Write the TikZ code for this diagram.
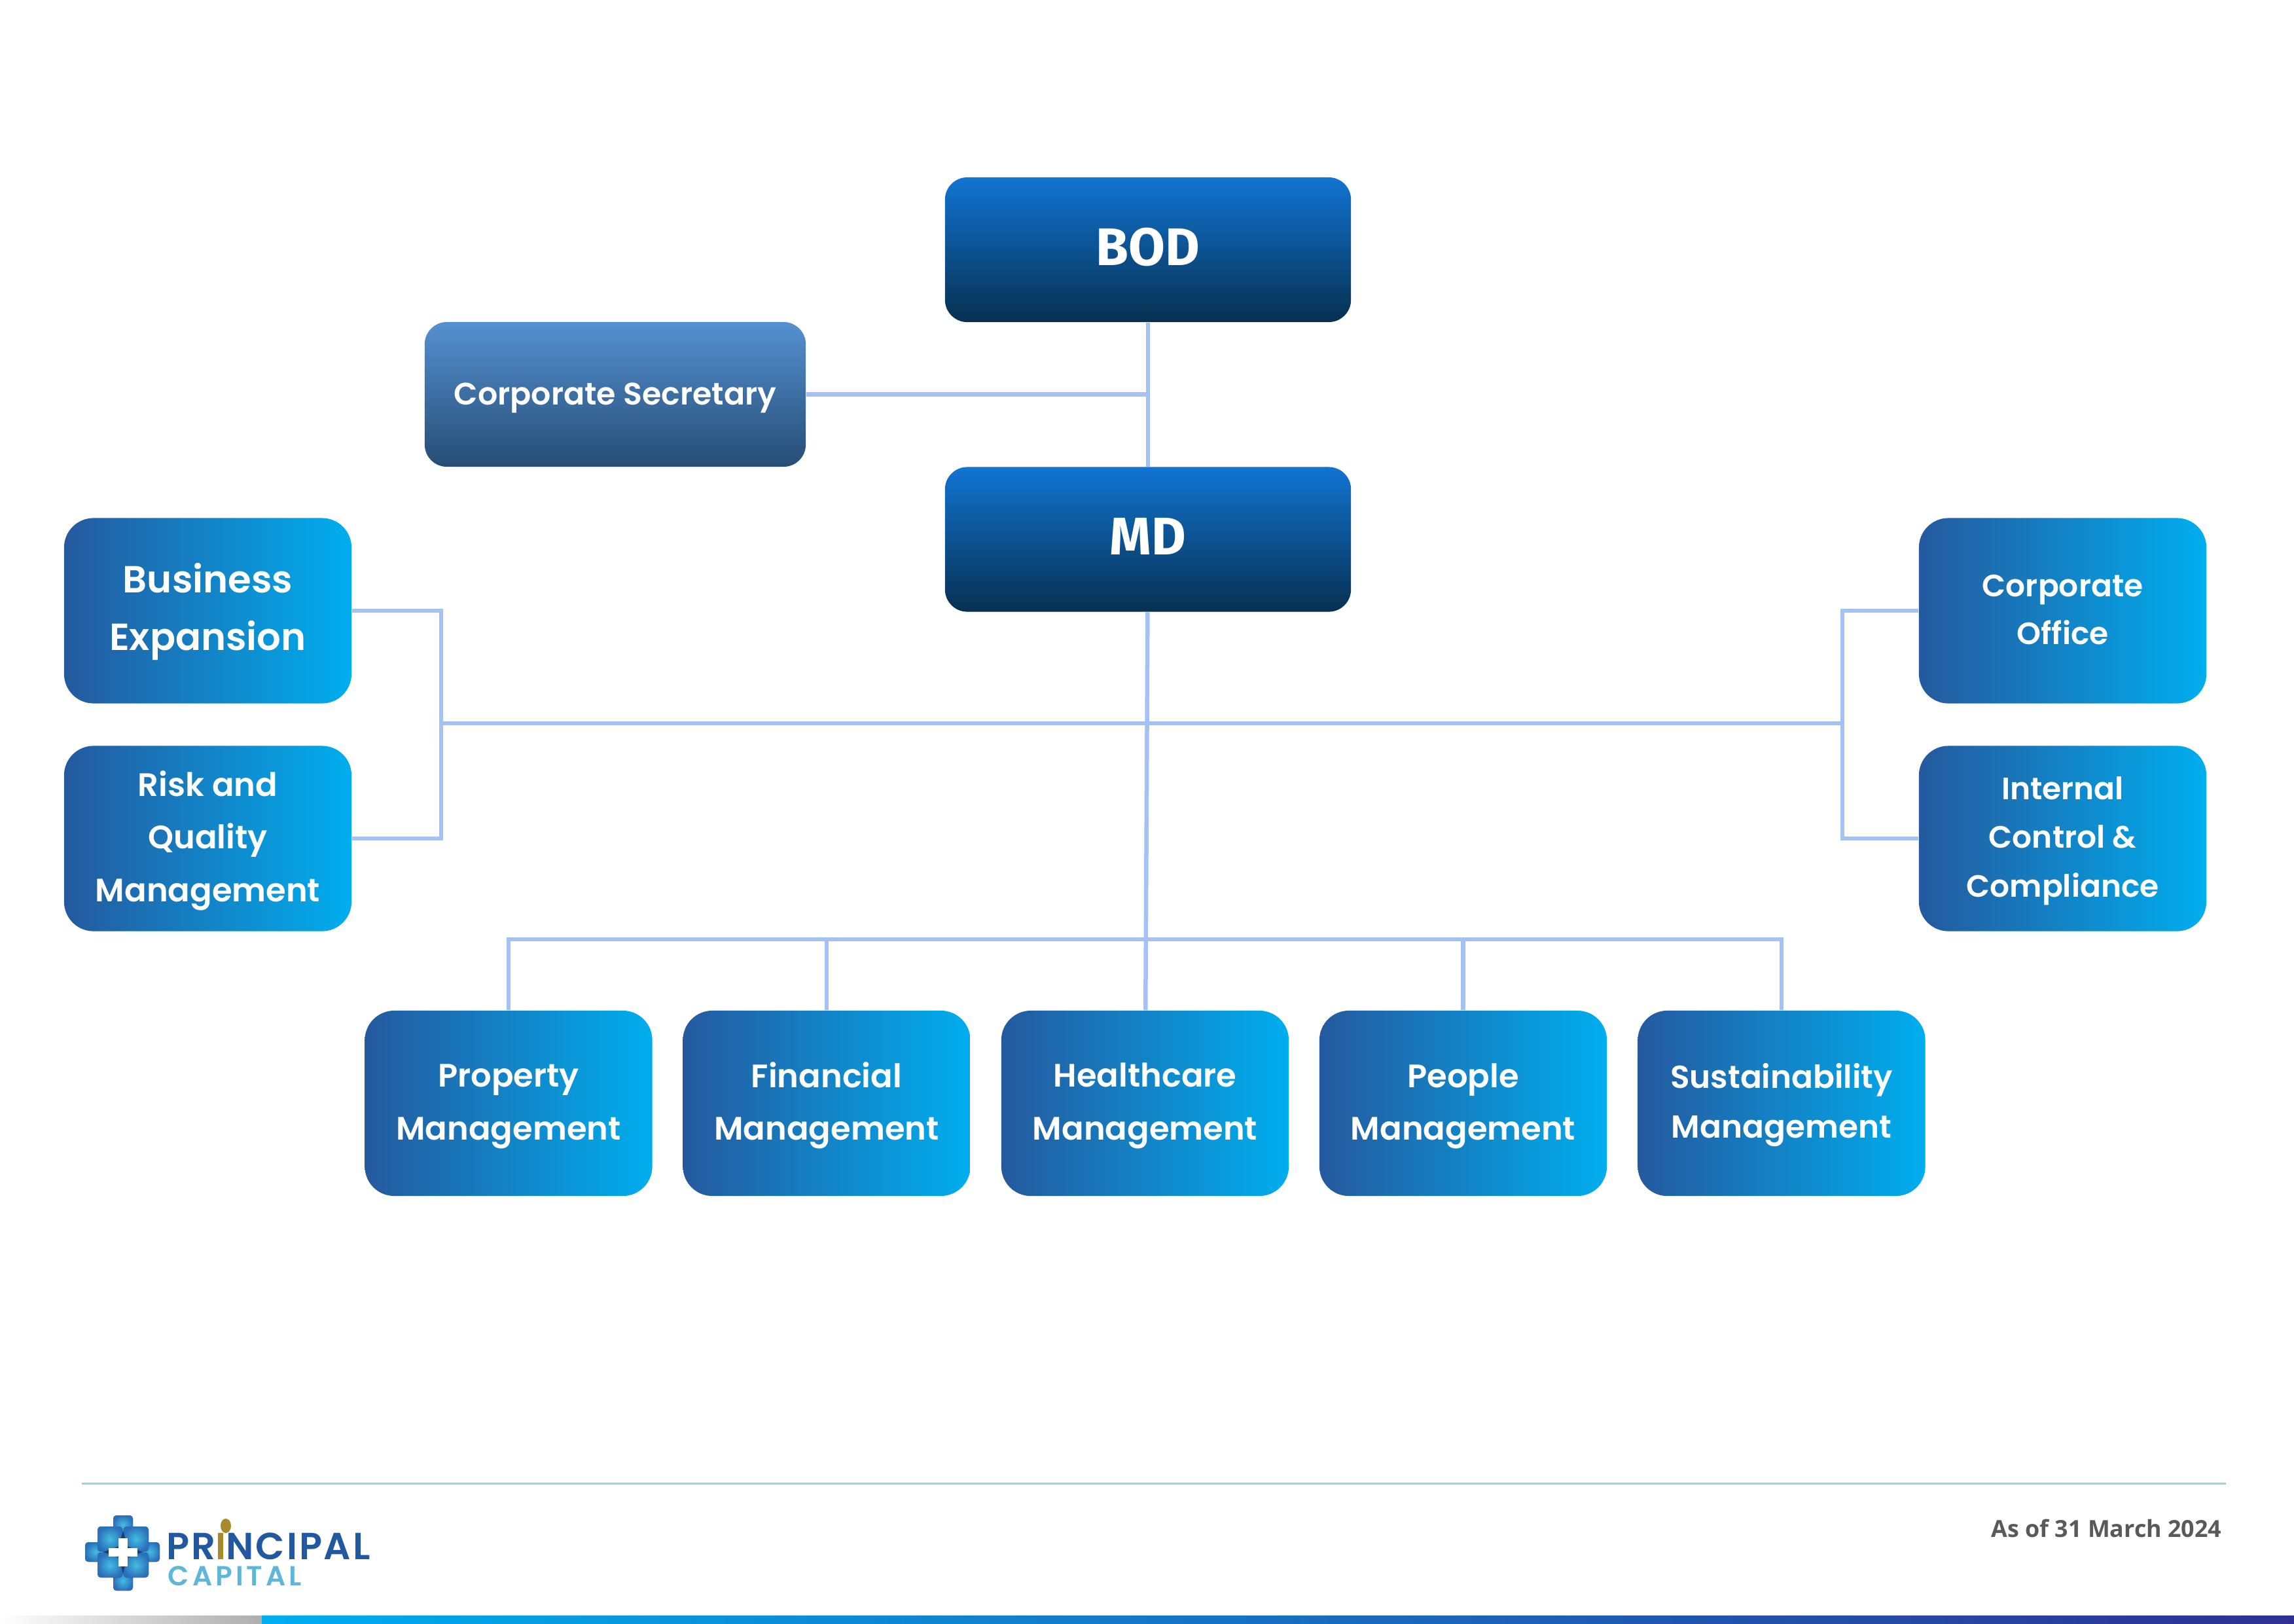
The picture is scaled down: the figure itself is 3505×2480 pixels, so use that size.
\documentclass[tikz,border=0pt]{standalone}
\usepackage{fontspec}
\setmainfont{Poppins}[BoldFont={Poppins SemiBold}]
\newfontfamily\headfont{Fira Sans}
\newfontfamily\datefont{Open Sans}
\usetikzlibrary{positioning}

\definecolor{linkblue}{HTML}{A4C2F4}
\definecolor{ruleblue}{HTML}{9BD3E0}
\definecolor{logoblue}{HTML}{22589F}
\definecolor{logocyan}{HTML}{5DB7D8}
\definecolor{logogold}{HTML}{A98A2B}

\begin{document}
\begin{tikzpicture}[
            x = 0.01cm, % one unit is one pixel of the reference
            y = -0.01cm,
            link/.style = {draw = linkblue, line width = 6.5pt*0.2845},
            box/.style = {
                rectangle,
                rounded corners = 0.34cm,
                text = white,
                align = center,
                inner sep = 0pt,
                font = \bfseries
            },
            topbox/.style = {
                box,
                minimum width = 6.2cm,
                minimum height = 2.21cm,
                text depth = 2.54pt,
                top color = {rgb,255:red,17;green,116;blue,210},
                bottom color = {rgb,255:red,7;green,48;blue,80},
                font = \headfont\bfseries\fontsize{23}{26}\selectfont
            },
            secbox/.style = {
                box,
                minimum width = 5.82cm,
                minimum height = 2.21cm,
                text depth = 0.4pt,
                top color = {rgb,255:red,85;green,144;blue,208},
                bottom color = {rgb,255:red,38;green,77;blue,117},
                font = \bfseries\fontsize{13.5}{20}\selectfont
            },
            unit/.style = {
                box,
                minimum width = 4.39cm,
                minimum height = 2.83cm,
                rounded corners = 0.45cm,
                text depth = 1pt,
                left color = {rgb,255:red,37;green,89;blue,158},
                right color = {rgb,255:red,0;green,174;blue,239},
                font = \bfseries\fontsize{14.1}{22.9}\selectfont
            },
            tile/.style = {
                rounded corners = 0.05cm,
                inner color = {rgb,255:red,65;green,190;blue,225},
                outer color = {rgb,255:red,45;green,112;blue,186}
            }
        ]

        \useasboundingbox (0,0) rectangle (3505,2480);

        \node[topbox] (bod) at (1754, 381.5) {BOD};
        \node[topbox] (md)  at (1754, 824)   {MD};
        \node[secbox] (sec) at (940,  602.5) {Corporate Secretary};

        % side units
        \node[unit, text depth = 3.5pt, font = \bfseries\fontsize{16.4}{24.8}\selectfont] (exp)  at (317.5,  933) {Business\\Expansion};
        \node[unit, text depth = 2.2pt]                                                   (risk) at (317.5, 1281) {Risk and\\Quality\\Management};
        \node[unit, font = \bfseries\fontsize{13.4}{21}\selectfont]                       (off)  at (3151.5, 933) {Corporate\\Office};
        \node[unit, text depth = 1.6pt, font = \bfseries\fontsize{13.4}{21.2}\selectfont] (ctrl) at (3151.5,1281) {Internal\\Control \&\\Compliance};

        % bottom row
        \node[unit]                                                                       (prop) at (777,  1685.5) {Property\\Management};
        \node[unit, text depth = 2pt]                                                     (fin)  at (1263, 1685.5) {Financial\\Management};
        \node[unit, text depth = 1.6pt]                                                   (hc)   at (1749.5,1685.5) {Healthcare\\Management};
        \node[unit, text depth = 1.3pt]                                                   (ppl)  at (2235.5,1685.5) {People\\Management};
        \node[unit, text depth = 2.2pt, font = \bfseries\fontsize{13.8}{21.6}\selectfont] (sus)  at (2722, 1685.5) {Sustainability\\Management};

        % junctions
        \coordinate (secj)   at (1754,  602.5);
        \coordinate (leftj)  at (674,   1105);
        \coordinate (rightj) at (2815,  1105);
        \coordinate (rowj)   at (1750.5,1435);

        \draw[link] (bod) -- (md);
        \draw[link] (sec) -- (secj);
        \draw[link] (md) -- (hc);
        \draw[link] (leftj) -- (rightj);
        \draw[link] (exp.east) -| (leftj);
        \draw[link] (risk.east) -| (leftj);
        \draw[link] (off.west) -| (rightj);
        \draw[link] (ctrl.west) -| (rightj);
        \draw[link] (prop.north) |- (rowj);
        \draw[link] (sus.north) |- (rowj);
        \draw[link] (fin.north) -- ++(0,-109);
        \draw[link] (ppl.north) -- ++(0,-109);

        % footer
        \draw[draw = ruleblue, line width = 3pt*0.2845] (125,2266) -- (3401,2266);
        \node[anchor = base east, inner sep = 0pt, text = black!65, font = \datefont\fontsize{10.2}{12}\selectfont\bfseries] (date) at (3395,2348) {As of 31 March 2024};

        \shade[left color = white, right color = black!32] (0,2468) rectangle (400,2480);
        \shade[left color = {rgb,255:red,0;green,174;blue,239}, right color = {rgb,255:red,46;green,49;blue,146}] (400,2468) rectangle (3505,2480);

        % logo
        \fill[tile] (173,2315) rectangle (203,2345);
        \fill[tile] (173,2400) rectangle (203,2430);
        \fill[tile] (130,2356) rectangle (162,2386);
        \fill[tile] (214,2356) rectangle (244,2386);
        \fill[tile] (149,2332) rectangle (187,2370);
        \fill[tile] (189,2332) rectangle (227,2370);
        \fill[tile] (149,2372) rectangle (187,2410);
        \fill[tile] (189,2372) rectangle (227,2410);
        \fill[logoblue!70!black] (188,2338) -- (194,2362) -- (218,2371) -- (194,2380) -- (188,2404) -- (182,2380) -- (158,2371) -- (182,2362) -- cycle;
        \fill[white] (181,2350) rectangle (195,2393);
        \fill[white] (166,2365) rectangle (210,2378);
        \node[anchor = base west, inner sep = 0pt, text = logoblue, font = \fontsize{16.4}{18}\selectfont\bfseries\addfontfeatures{LetterSpace=5}] (pname) at (254,2382) {PR\textcolor{logogold}{I}NCIPAL};
        \fill[logogold] (345,2331) ellipse (8 and 11);
        \node[anchor = base west, inner sep = 0pt, text = logocyan, font = \fontsize{12}{14}\selectfont\bfseries\addfontfeatures{LetterSpace=12}] (cname) at (256,2422) {CAPITAL};

    \end{tikzpicture}
\end{document}
